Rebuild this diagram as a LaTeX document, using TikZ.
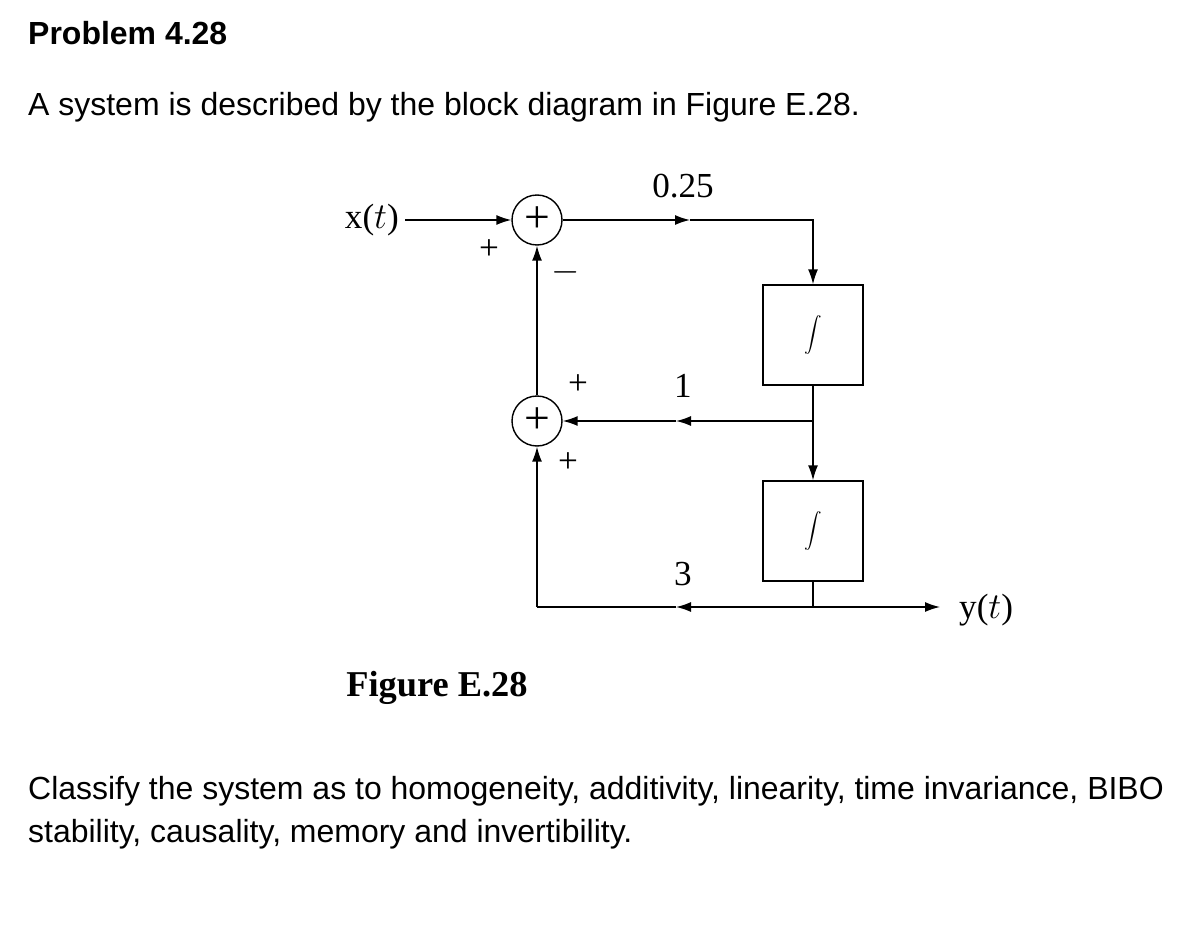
\documentclass[tikz,border=0pt]{standalone}
\usepackage{fontspec}
\setmainfont{Liberation Sans}
\newfontfamily\serifbody{Liberation Serif}
\usetikzlibrary{arrows.meta}
\begin{document}
\begin{tikzpicture}[x=0.02cm, y=-0.02cm,
  sum/.style={circle, draw, thick, minimum size=1.0cm, inner sep=0pt, font=\serifbody\fontsize{26}{26}\selectfont},
  integ/.style={rectangle, draw, thick, minimum width=2cm, minimum height=2cm, inner sep=0pt, font=\fontsize{32}{32}\selectfont},
  lbl/.style={font=\serifbody\fontsize{20}{20}\selectfont},
  txt/.style={anchor=west, font=\fontsize{18.2}{24.4}\selectfont},
  sig/.style={thick, -{Latex[length=3mm, width=2mm]}},
  ln/.style={thick}]

\path[use as bounding box] (0,0) rectangle (1204,926);

\node[txt, font=\bfseries\fontsize{18.2}{24.4}\selectfont] (title) at (22,33) {Problem 4.28};
\node[txt] (intro) at (22,107) {A system is described by the block diagram in Figure E.28.};
\node[txt, anchor=north west, align=left] (task) at (22,770)
  {Classify the system as to homogeneity, additivity, linearity, time invariance, BIBO\\stability, causality, memory and invertibility.};

% blocks
\node[sum] (s1) at (537,220) {+};
\node[sum] (s2) at (537,421) {+};
\node[integ] (i1) at (813,335) {$\displaystyle\int$};
\node[integ] (i2) at (813,531) {$\displaystyle\int$};

\node[lbl, anchor=east] (x) at (405,220) {x($t$)};
\node[lbl, anchor=west] (y) at (953,610) {y($t$)};
\node[font=\serifbody\bfseries\fontsize{20.7}{24}\selectfont] (fig) at (437,688) {Figure E.28};

% helper points
\coordinate (g1) at (690,220);
\coordinate (j1) at (813,421);
\coordinate (g2) at (676,421);
\coordinate (j2) at (813,607);
\coordinate (g3) at (676,607);
\coordinate (c3) at (537,607);
\coordinate (yend) at (940,607);

% forward path
\draw[sig] (x) -- (s1);
\draw[sig] (s1) -- (g1);
\draw[sig] (g1) -| (i1);
\draw[ln] (i1) -- (j1);
\draw[sig] (j1) -- (i2);
\draw[ln] (i2) -- (j2);
\draw[sig] (j2) -- (yend);

% feedback
\draw[sig] (j1) -- (g2);
\draw[sig] (g2) -- (s2);
\draw[sig] (j2) -- (g3);
\draw[ln] (g3) -- (c3);
\draw[sig] (c3) -- (s2);
\draw[sig] (s2) -- (s1);

% gains and signs
\node[lbl] at (683,186) {0.25};
\node[lbl] at (683,386) {1};
\node[lbl] at (683,574) {3};
\node[lbl] at (489,250) {+};
\node[lbl] at (566,272) {$-$};
\node[lbl] at (578,385) {+};
\node[lbl] at (568,463) {+};

\end{tikzpicture}
\end{document}
